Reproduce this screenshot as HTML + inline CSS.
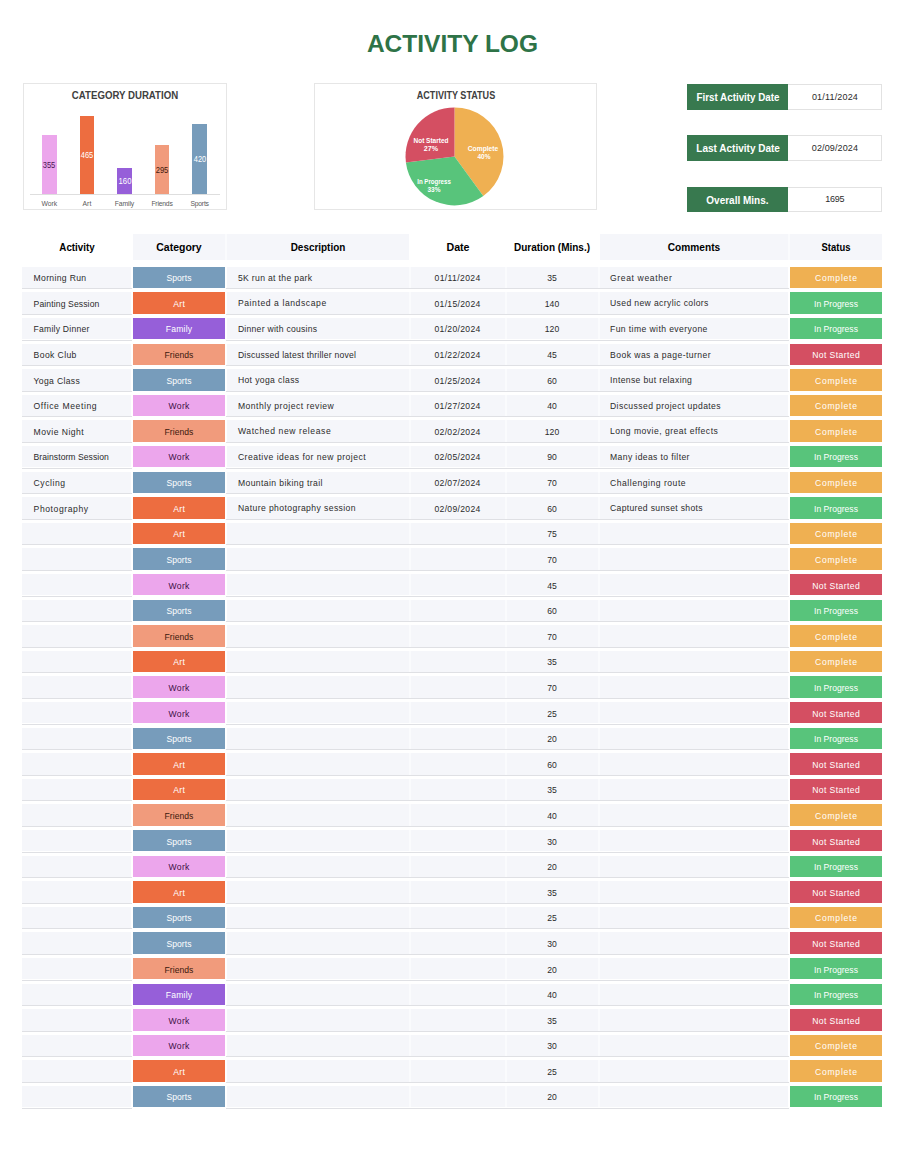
<!DOCTYPE html>
<html><head><meta charset="utf-8"><title>Activity Log</title>
<style>
html,body{margin:0;padding:0;background:#fff;}
body{width:900px;height:1165px;position:relative;overflow:hidden;font-family:"Liberation Sans", sans-serif;}
body>div{position:absolute;}
.t{white-space:nowrap;line-height:1;}
</style></head><body>
<div class="t" style="top:32px;font-size:24.5px;color:#2e7347;font-weight:bold;left:302.45px;width:300px;text-align:center;">ACTIVITY LOG</div>
<div style="left:22.50px;top:83.30px;width:204.00px;height:127.20px;border:1px solid #e6e6e6;box-sizing:border-box;"></div>
<div class="t" style="top:91px;font-size:10px;color:#404040;font-weight:bold;left:-25.35px;width:300px;text-align:center;transform:scaleX(0.9652);transform-origin:50% 0;">CATEGORY DURATION</div>
<div style="left:30.30px;top:194.00px;width:189.40px;height:0.80px;background:#dedede;"></div>
<div style="left:41.90px;top:134.76px;width:14.80px;height:59.64px;background:#eca6ec;"></div>
<div class="t" style="top:161px;font-size:8.4px;color:#4a1a55;left:-100.70px;width:300px;text-align:center;transform:scaleX(0.8990);transform-origin:50% 0;">355</div>
<div class="t" style="top:201px;font-size:6.8px;color:#595959;letter-spacing:-0.067px;left:-100.73px;width:300px;text-align:center;">Work</div>
<div style="left:79.50px;top:116.28px;width:14.80px;height:78.12px;background:#ed6d40;"></div>
<div class="t" style="top:151px;font-size:8.4px;color:#ffffff;left:-63.10px;width:300px;text-align:center;transform:scaleX(0.8901);transform-origin:50% 0;">465</div>
<div class="t" style="top:201px;font-size:6.8px;color:#595959;letter-spacing:0.048px;left:-63.08px;width:300px;text-align:center;">Art</div>
<div style="left:117.10px;top:167.52px;width:14.80px;height:26.88px;background:#965fd9;"></div>
<div class="t" style="top:177px;font-size:8.4px;color:#ffffff;left:-25.50px;width:300px;text-align:center;transform:scaleX(0.9193);transform-origin:50% 0;">160</div>
<div class="t" style="top:201px;font-size:6.8px;color:#595959;letter-spacing:-0.092px;left:-25.55px;width:300px;text-align:center;">Family</div>
<div style="left:154.70px;top:144.84px;width:14.80px;height:49.56px;background:#f19b7c;"></div>
<div class="t" style="top:166px;font-size:8.4px;color:#3f1a0e;left:12.10px;width:300px;text-align:center;transform:scaleX(0.9059);transform-origin:50% 0;">295</div>
<div class="t" style="top:201px;font-size:6.8px;color:#595959;letter-spacing:-0.205px;left:12.00px;width:300px;text-align:center;">Friends</div>
<div style="left:192.30px;top:123.84px;width:14.80px;height:70.56px;background:#779cbb;"></div>
<div class="t" style="top:155px;font-size:8.4px;color:#ffffff;left:49.70px;width:300px;text-align:center;transform:scaleX(0.8884);transform-origin:50% 0;">420</div>
<div class="t" style="top:201px;font-size:6.8px;color:#595959;letter-spacing:-0.220px;left:49.59px;width:300px;text-align:center;">Sports</div>
<div style="left:314.30px;top:83.40px;width:282.70px;height:127.10px;border:1px solid #e6e6e6;box-sizing:border-box;"></div>
<div class="t" style="top:91px;font-size:10px;color:#404040;font-weight:bold;left:305.90px;width:300px;text-align:center;transform:scaleX(0.9042);transform-origin:50% 0;">ACTIVITY STATUS</div>
<svg width="900" height="230" style="position:absolute;left:0;top:0"><path d="M454.50,156.40 L454.50,107.40 A49.0,49.0 0 0 1 483.30,196.04 Z" fill="#efb052" stroke="none"/><path d="M454.50,156.40 L483.30,196.04 A49.0,49.0 0 0 1 405.89,162.54 Z" fill="#58c47b" stroke="none"/><path d="M454.50,156.40 L405.89,162.54 A49.0,49.0 0 0 1 454.50,107.40 Z" fill="#d44f62" stroke="none"/></svg>
<div class="t" style="top:138px;font-size:6.8px;color:#fff;font-weight:bold;left:280.75px;width:300px;text-align:center;transform:scaleX(0.9539);transform-origin:50% 0;">Not Started</div>
<div class="t" style="top:146px;font-size:6.8px;color:#fff;font-weight:bold;left:280.85px;width:300px;text-align:center;transform:scaleX(1.0531);transform-origin:50% 0;">27%</div>
<div class="t" style="top:146px;font-size:6.8px;color:#fff;font-weight:bold;left:333.10px;width:300px;text-align:center;transform:scaleX(0.9845);transform-origin:50% 0;">Complete</div>
<div class="t" style="top:154px;font-size:6.8px;color:#fff;font-weight:bold;left:333.60px;width:300px;text-align:center;transform:scaleX(0.9604);transform-origin:50% 0;">40%</div>
<div class="t" style="top:179px;font-size:6.8px;color:#fff;font-weight:bold;left:284.30px;width:300px;text-align:center;transform:scaleX(0.8994);transform-origin:50% 0;">In Progress</div>
<div class="t" style="top:187px;font-size:6.8px;color:#fff;font-weight:bold;left:284.05px;width:300px;text-align:center;transform:scaleX(0.9563);transform-origin:50% 0;">33%</div>
<div style="left:687.30px;top:84.00px;width:100.40px;height:25.70px;background:#38794f;"></div>
<div class="t" style="top:93px;font-size:10px;color:#fff;font-weight:bold;left:588.30px;width:300px;text-align:center;transform:scaleX(0.9803);transform-origin:50% 0;">First Activity Date</div>
<div style="left:787.70px;top:84.00px;width:94.30px;height:25.70px;border:1px solid #e2e2e2;border-left:none;box-sizing:border-box;background:#fff;"></div>
<div class="t" style="top:93px;font-size:9px;color:#2b2b2b;letter-spacing:0.179px;left:684.99px;width:300px;text-align:center;">01/11/2024</div>
<div style="left:687.30px;top:135.30px;width:100.40px;height:25.70px;background:#38794f;"></div>
<div class="t" style="top:144px;font-size:10px;color:#fff;font-weight:bold;left:588.15px;width:300px;text-align:center;">Last Activity Date</div>
<div style="left:787.70px;top:135.30px;width:94.30px;height:25.70px;border:1px solid #e2e2e2;border-left:none;box-sizing:border-box;background:#fff;"></div>
<div class="t" style="top:144px;font-size:9px;color:#2b2b2b;letter-spacing:0.112px;left:684.96px;width:300px;text-align:center;">02/09/2024</div>
<div style="left:687.30px;top:186.60px;width:100.40px;height:25.70px;background:#38794f;"></div>
<div class="t" style="top:196px;font-size:10px;color:#fff;font-weight:bold;left:587.45px;width:300px;text-align:center;">Overall Mins.</div>
<div style="left:787.70px;top:186.60px;width:94.30px;height:25.70px;border:1px solid #e2e2e2;border-left:none;box-sizing:border-box;background:#fff;"></div>
<div class="t" style="top:195px;font-size:9px;color:#2b2b2b;letter-spacing:-0.186px;left:684.81px;width:300px;text-align:center;">1695</div>
<div style="left:132.80px;top:233.80px;width:276.50px;height:25.80px;background:#f5f6fa;"></div>
<div style="left:225.00px;top:233.80px;width:2.00px;height:25.80px;background:#fafbfd;"></div>
<div style="left:599.80px;top:233.80px;width:282.20px;height:25.80px;background:#f5f6fa;"></div>
<div style="left:788.00px;top:233.80px;width:2.00px;height:25.80px;background:#fafbfd;"></div>
<div class="t" style="top:243px;font-size:10px;color:#000;font-weight:bold;left:-73.50px;width:300px;text-align:center;transform:scaleX(0.9768);transform-origin:50% 0;">Activity</div>
<div class="t" style="top:243px;font-size:10px;color:#000;font-weight:bold;left:29.00px;width:300px;text-align:center;transform:scaleX(1.0471);transform-origin:50% 0;">Category</div>
<div class="t" style="top:243px;font-size:10px;color:#000;font-weight:bold;left:168.00px;width:300px;text-align:center;transform:scaleX(0.9920);transform-origin:50% 0;">Description</div>
<div class="t" style="top:243px;font-size:10px;color:#000;font-weight:bold;left:307.75px;width:300px;text-align:center;transform:scaleX(1.0643);transform-origin:50% 0;">Date</div>
<div class="t" style="top:243px;font-size:10px;color:#000;font-weight:bold;left:402.00px;width:300px;text-align:center;">Duration (Mins.)</div>
<div class="t" style="top:243px;font-size:10px;color:#000;font-weight:bold;left:543.75px;width:300px;text-align:center;transform:scaleX(1.0145);transform-origin:50% 0;">Comments</div>
<div class="t" style="top:243px;font-size:10px;color:#000;font-weight:bold;left:686.00px;width:300px;text-align:center;transform:scaleX(0.9438);transform-origin:50% 0;">Status</div>
<div style="left:22.00px;top:266.70px;width:109.00px;height:21.60px;background:#f5f6fa;"></div>
<div style="left:227.00px;top:266.70px;width:561.00px;height:21.60px;background:#f5f6fa;"></div>
<div style="left:409.00px;top:266.70px;width:2.00px;height:21.60px;background:#fafbfd;"></div>
<div style="left:504.50px;top:266.70px;width:2.00px;height:21.60px;background:#fafbfd;"></div>
<div style="left:597.50px;top:266.70px;width:2.00px;height:21.60px;background:#fafbfd;"></div>
<div style="left:22.00px;top:288.30px;width:110.00px;height:1.00px;background:#dfe0e4;"></div>
<div style="left:226.00px;top:288.30px;width:563.00px;height:1.00px;background:#dfe0e4;"></div>
<div style="left:133.00px;top:266.70px;width:92.00px;height:21.60px;background:#779cbb;"></div>
<div class="t" style="top:274px;font-size:8.6px;color:#ffffff;letter-spacing:0.012px;left:29.01px;width:300px;text-align:center;">Sports</div>
<div style="left:790.00px;top:266.70px;width:92.00px;height:21.60px;background:#efb052;"></div>
<div class="t" style="top:274px;font-size:8.6px;color:#fff;letter-spacing:0.759px;left:686.38px;width:300px;text-align:center;">Complete</div>
<div class="t" style="top:274px;font-size:8.6px;color:#2b2b2b;letter-spacing:0.325px;left:33.60px;">Morning Run</div>
<div class="t" style="top:274px;font-size:8.6px;color:#2b2b2b;letter-spacing:0.341px;left:237.90px;">5K run at the park</div>
<div class="t" style="top:274px;font-size:8.6px;color:#2b2b2b;letter-spacing:0.376px;left:307.59px;width:300px;text-align:center;">01/11/2024</div>
<div class="t" style="top:274px;font-size:8.6px;color:#2b2b2b;letter-spacing:0.037px;left:402.02px;width:300px;text-align:center;">35</div>
<div class="t" style="top:274px;font-size:8.6px;color:#2b2b2b;letter-spacing:0.617px;left:610.00px;">Great weather</div>
<div style="left:22.00px;top:292.30px;width:109.00px;height:21.60px;background:#f5f6fa;"></div>
<div style="left:227.00px;top:292.30px;width:561.00px;height:21.60px;background:#f5f6fa;"></div>
<div style="left:409.00px;top:292.30px;width:2.00px;height:21.60px;background:#fafbfd;"></div>
<div style="left:504.50px;top:292.30px;width:2.00px;height:21.60px;background:#fafbfd;"></div>
<div style="left:597.50px;top:292.30px;width:2.00px;height:21.60px;background:#fafbfd;"></div>
<div style="left:22.00px;top:313.90px;width:110.00px;height:1.00px;background:#dfe0e4;"></div>
<div style="left:226.00px;top:313.90px;width:563.00px;height:1.00px;background:#dfe0e4;"></div>
<div style="left:133.00px;top:292.30px;width:92.00px;height:21.60px;background:#ed6d40;"></div>
<div class="t" style="top:300px;font-size:8.6px;color:#ffffff;letter-spacing:0.339px;left:29.17px;width:300px;text-align:center;">Art</div>
<div style="left:790.00px;top:292.30px;width:92.00px;height:21.60px;background:#58c47b;"></div>
<div class="t" style="top:300px;font-size:8.6px;color:#fff;left:686.00px;width:300px;text-align:center;">In Progress</div>
<div class="t" style="top:300px;font-size:8.6px;color:#2b2b2b;letter-spacing:0.114px;left:33.60px;">Painting Session</div>
<div class="t" style="top:299px;font-size:8.6px;color:#2b2b2b;letter-spacing:0.580px;left:237.90px;">Painted a landscape</div>
<div class="t" style="top:300px;font-size:8.6px;color:#2b2b2b;letter-spacing:0.312px;left:307.56px;width:300px;text-align:center;">01/15/2024</div>
<div class="t" style="top:300px;font-size:8.6px;color:#2b2b2b;letter-spacing:0.037px;left:402.02px;width:300px;text-align:center;">140</div>
<div class="t" style="top:299px;font-size:8.6px;color:#2b2b2b;letter-spacing:0.370px;left:610.00px;">Used new acrylic colors</div>
<div style="left:22.00px;top:317.90px;width:109.00px;height:21.60px;background:#f5f6fa;"></div>
<div style="left:227.00px;top:317.90px;width:561.00px;height:21.60px;background:#f5f6fa;"></div>
<div style="left:409.00px;top:317.90px;width:2.00px;height:21.60px;background:#fafbfd;"></div>
<div style="left:504.50px;top:317.90px;width:2.00px;height:21.60px;background:#fafbfd;"></div>
<div style="left:597.50px;top:317.90px;width:2.00px;height:21.60px;background:#fafbfd;"></div>
<div style="left:22.00px;top:339.50px;width:110.00px;height:1.00px;background:#dfe0e4;"></div>
<div style="left:226.00px;top:339.50px;width:563.00px;height:1.00px;background:#dfe0e4;"></div>
<div style="left:133.00px;top:317.90px;width:92.00px;height:21.60px;background:#965fd9;"></div>
<div class="t" style="top:325px;font-size:8.6px;color:#ffffff;letter-spacing:0.191px;left:29.10px;width:300px;text-align:center;">Family</div>
<div style="left:790.00px;top:317.90px;width:92.00px;height:21.60px;background:#58c47b;"></div>
<div class="t" style="top:325px;font-size:8.6px;color:#fff;left:686.00px;width:300px;text-align:center;">In Progress</div>
<div class="t" style="top:325px;font-size:8.6px;color:#2b2b2b;letter-spacing:0.225px;left:33.60px;">Family Dinner</div>
<div class="t" style="top:325px;font-size:8.6px;color:#2b2b2b;letter-spacing:0.263px;left:237.90px;">Dinner with cousins</div>
<div class="t" style="top:325px;font-size:8.6px;color:#2b2b2b;letter-spacing:0.312px;left:307.56px;width:300px;text-align:center;">01/20/2024</div>
<div class="t" style="top:325px;font-size:8.6px;color:#2b2b2b;letter-spacing:0.037px;left:402.02px;width:300px;text-align:center;">120</div>
<div class="t" style="top:325px;font-size:8.6px;color:#2b2b2b;letter-spacing:0.406px;left:610.00px;">Fun time with everyone</div>
<div style="left:22.00px;top:343.50px;width:109.00px;height:21.60px;background:#f5f6fa;"></div>
<div style="left:227.00px;top:343.50px;width:561.00px;height:21.60px;background:#f5f6fa;"></div>
<div style="left:409.00px;top:343.50px;width:2.00px;height:21.60px;background:#fafbfd;"></div>
<div style="left:504.50px;top:343.50px;width:2.00px;height:21.60px;background:#fafbfd;"></div>
<div style="left:597.50px;top:343.50px;width:2.00px;height:21.60px;background:#fafbfd;"></div>
<div style="left:22.00px;top:365.10px;width:110.00px;height:1.00px;background:#dfe0e4;"></div>
<div style="left:226.00px;top:365.10px;width:563.00px;height:1.00px;background:#dfe0e4;"></div>
<div style="left:133.00px;top:343.50px;width:92.00px;height:21.60px;background:#f19b7c;"></div>
<div class="t" style="top:351px;font-size:8.6px;color:#3a180d;letter-spacing:0.028px;left:29.01px;width:300px;text-align:center;">Friends</div>
<div style="left:790.00px;top:343.50px;width:92.00px;height:21.60px;background:#d44f62;"></div>
<div class="t" style="top:351px;font-size:8.6px;color:#fff;letter-spacing:0.400px;left:686.20px;width:300px;text-align:center;">Not Started</div>
<div class="t" style="top:351px;font-size:8.6px;color:#2b2b2b;letter-spacing:0.392px;left:33.60px;">Book Club</div>
<div class="t" style="top:351px;font-size:8.6px;color:#2b2b2b;letter-spacing:0.224px;left:237.90px;">Discussed latest thriller novel</div>
<div class="t" style="top:351px;font-size:8.6px;color:#2b2b2b;letter-spacing:0.312px;left:307.56px;width:300px;text-align:center;">01/22/2024</div>
<div class="t" style="top:351px;font-size:8.6px;color:#2b2b2b;letter-spacing:0.037px;left:402.02px;width:300px;text-align:center;">45</div>
<div class="t" style="top:351px;font-size:8.6px;color:#2b2b2b;letter-spacing:0.450px;left:610.00px;">Book was a page-turner</div>
<div style="left:22.00px;top:369.10px;width:109.00px;height:21.60px;background:#f5f6fa;"></div>
<div style="left:227.00px;top:369.10px;width:561.00px;height:21.60px;background:#f5f6fa;"></div>
<div style="left:409.00px;top:369.10px;width:2.00px;height:21.60px;background:#fafbfd;"></div>
<div style="left:504.50px;top:369.10px;width:2.00px;height:21.60px;background:#fafbfd;"></div>
<div style="left:597.50px;top:369.10px;width:2.00px;height:21.60px;background:#fafbfd;"></div>
<div style="left:22.00px;top:390.70px;width:110.00px;height:1.00px;background:#dfe0e4;"></div>
<div style="left:226.00px;top:390.70px;width:563.00px;height:1.00px;background:#dfe0e4;"></div>
<div style="left:133.00px;top:369.10px;width:92.00px;height:21.60px;background:#779cbb;"></div>
<div class="t" style="top:377px;font-size:8.6px;color:#ffffff;letter-spacing:0.012px;left:29.01px;width:300px;text-align:center;">Sports</div>
<div style="left:790.00px;top:369.10px;width:92.00px;height:21.60px;background:#efb052;"></div>
<div class="t" style="top:377px;font-size:8.6px;color:#fff;letter-spacing:0.759px;left:686.38px;width:300px;text-align:center;">Complete</div>
<div class="t" style="top:377px;font-size:8.6px;color:#2b2b2b;letter-spacing:0.337px;left:33.60px;">Yoga Class</div>
<div class="t" style="top:376px;font-size:8.6px;color:#2b2b2b;letter-spacing:0.373px;left:237.90px;">Hot yoga class</div>
<div class="t" style="top:377px;font-size:8.6px;color:#2b2b2b;letter-spacing:0.312px;left:307.56px;width:300px;text-align:center;">01/25/2024</div>
<div class="t" style="top:377px;font-size:8.6px;color:#2b2b2b;letter-spacing:0.037px;left:402.02px;width:300px;text-align:center;">60</div>
<div class="t" style="top:376px;font-size:8.6px;color:#2b2b2b;letter-spacing:0.359px;left:610.00px;">Intense but relaxing</div>
<div style="left:22.00px;top:394.70px;width:109.00px;height:21.60px;background:#f5f6fa;"></div>
<div style="left:227.00px;top:394.70px;width:561.00px;height:21.60px;background:#f5f6fa;"></div>
<div style="left:409.00px;top:394.70px;width:2.00px;height:21.60px;background:#fafbfd;"></div>
<div style="left:504.50px;top:394.70px;width:2.00px;height:21.60px;background:#fafbfd;"></div>
<div style="left:597.50px;top:394.70px;width:2.00px;height:21.60px;background:#fafbfd;"></div>
<div style="left:22.00px;top:416.30px;width:110.00px;height:1.00px;background:#dfe0e4;"></div>
<div style="left:226.00px;top:416.30px;width:563.00px;height:1.00px;background:#dfe0e4;"></div>
<div style="left:133.00px;top:394.70px;width:92.00px;height:21.60px;background:#eca6ec;"></div>
<div class="t" style="top:402px;font-size:8.6px;color:#3d1145;letter-spacing:0.282px;left:29.14px;width:300px;text-align:center;">Work</div>
<div style="left:790.00px;top:394.70px;width:92.00px;height:21.60px;background:#efb052;"></div>
<div class="t" style="top:402px;font-size:8.6px;color:#fff;letter-spacing:0.759px;left:686.38px;width:300px;text-align:center;">Complete</div>
<div class="t" style="top:402px;font-size:8.6px;color:#2b2b2b;letter-spacing:0.595px;left:33.60px;">Office Meeting</div>
<div class="t" style="top:402px;font-size:8.6px;color:#2b2b2b;letter-spacing:0.496px;left:237.90px;">Monthly project review</div>
<div class="t" style="top:402px;font-size:8.6px;color:#2b2b2b;letter-spacing:0.312px;left:307.56px;width:300px;text-align:center;">01/27/2024</div>
<div class="t" style="top:402px;font-size:8.6px;color:#2b2b2b;letter-spacing:0.037px;left:402.02px;width:300px;text-align:center;">40</div>
<div class="t" style="top:402px;font-size:8.6px;color:#2b2b2b;letter-spacing:0.409px;left:610.00px;">Discussed project updates</div>
<div style="left:22.00px;top:420.30px;width:109.00px;height:21.60px;background:#f5f6fa;"></div>
<div style="left:227.00px;top:420.30px;width:561.00px;height:21.60px;background:#f5f6fa;"></div>
<div style="left:409.00px;top:420.30px;width:2.00px;height:21.60px;background:#fafbfd;"></div>
<div style="left:504.50px;top:420.30px;width:2.00px;height:21.60px;background:#fafbfd;"></div>
<div style="left:597.50px;top:420.30px;width:2.00px;height:21.60px;background:#fafbfd;"></div>
<div style="left:22.00px;top:441.90px;width:110.00px;height:1.00px;background:#dfe0e4;"></div>
<div style="left:226.00px;top:441.90px;width:563.00px;height:1.00px;background:#dfe0e4;"></div>
<div style="left:133.00px;top:420.30px;width:92.00px;height:21.60px;background:#f19b7c;"></div>
<div class="t" style="top:428px;font-size:8.6px;color:#3a180d;letter-spacing:0.028px;left:29.01px;width:300px;text-align:center;">Friends</div>
<div style="left:790.00px;top:420.30px;width:92.00px;height:21.60px;background:#efb052;"></div>
<div class="t" style="top:428px;font-size:8.6px;color:#fff;letter-spacing:0.759px;left:686.38px;width:300px;text-align:center;">Complete</div>
<div class="t" style="top:428px;font-size:8.6px;color:#2b2b2b;letter-spacing:0.473px;left:33.60px;">Movie Night</div>
<div class="t" style="top:427px;font-size:8.6px;color:#2b2b2b;letter-spacing:0.582px;left:237.90px;">Watched new release</div>
<div class="t" style="top:428px;font-size:8.6px;color:#2b2b2b;letter-spacing:0.312px;left:307.56px;width:300px;text-align:center;">02/02/2024</div>
<div class="t" style="top:428px;font-size:8.6px;color:#2b2b2b;letter-spacing:0.037px;left:402.02px;width:300px;text-align:center;">120</div>
<div class="t" style="top:427px;font-size:8.6px;color:#2b2b2b;letter-spacing:0.477px;left:610.00px;">Long movie, great effects</div>
<div style="left:22.00px;top:445.90px;width:109.00px;height:21.60px;background:#f5f6fa;"></div>
<div style="left:227.00px;top:445.90px;width:561.00px;height:21.60px;background:#f5f6fa;"></div>
<div style="left:409.00px;top:445.90px;width:2.00px;height:21.60px;background:#fafbfd;"></div>
<div style="left:504.50px;top:445.90px;width:2.00px;height:21.60px;background:#fafbfd;"></div>
<div style="left:597.50px;top:445.90px;width:2.00px;height:21.60px;background:#fafbfd;"></div>
<div style="left:22.00px;top:467.50px;width:110.00px;height:1.00px;background:#dfe0e4;"></div>
<div style="left:226.00px;top:467.50px;width:563.00px;height:1.00px;background:#dfe0e4;"></div>
<div style="left:133.00px;top:445.90px;width:92.00px;height:21.60px;background:#eca6ec;"></div>
<div class="t" style="top:453px;font-size:8.6px;color:#3d1145;letter-spacing:0.282px;left:29.14px;width:300px;text-align:center;">Work</div>
<div style="left:790.00px;top:445.90px;width:92.00px;height:21.60px;background:#58c47b;"></div>
<div class="t" style="top:453px;font-size:8.6px;color:#fff;left:686.00px;width:300px;text-align:center;">In Progress</div>
<div class="t" style="top:453px;font-size:8.6px;color:#2b2b2b;letter-spacing:0.041px;left:33.60px;">Brainstorm Session</div>
<div class="t" style="top:453px;font-size:8.6px;color:#2b2b2b;letter-spacing:0.484px;left:237.90px;">Creative ideas for new project</div>
<div class="t" style="top:453px;font-size:8.6px;color:#2b2b2b;letter-spacing:0.312px;left:307.56px;width:300px;text-align:center;">02/05/2024</div>
<div class="t" style="top:453px;font-size:8.6px;color:#2b2b2b;letter-spacing:0.037px;left:402.02px;width:300px;text-align:center;">90</div>
<div class="t" style="top:453px;font-size:8.6px;color:#2b2b2b;letter-spacing:0.386px;left:610.00px;">Many ideas to filter</div>
<div style="left:22.00px;top:471.50px;width:109.00px;height:21.60px;background:#f5f6fa;"></div>
<div style="left:227.00px;top:471.50px;width:561.00px;height:21.60px;background:#f5f6fa;"></div>
<div style="left:409.00px;top:471.50px;width:2.00px;height:21.60px;background:#fafbfd;"></div>
<div style="left:504.50px;top:471.50px;width:2.00px;height:21.60px;background:#fafbfd;"></div>
<div style="left:597.50px;top:471.50px;width:2.00px;height:21.60px;background:#fafbfd;"></div>
<div style="left:22.00px;top:493.10px;width:110.00px;height:1.00px;background:#dfe0e4;"></div>
<div style="left:226.00px;top:493.10px;width:563.00px;height:1.00px;background:#dfe0e4;"></div>
<div style="left:133.00px;top:471.50px;width:92.00px;height:21.60px;background:#779cbb;"></div>
<div class="t" style="top:479px;font-size:8.6px;color:#ffffff;letter-spacing:0.012px;left:29.01px;width:300px;text-align:center;">Sports</div>
<div style="left:790.00px;top:471.50px;width:92.00px;height:21.60px;background:#efb052;"></div>
<div class="t" style="top:479px;font-size:8.6px;color:#fff;letter-spacing:0.759px;left:686.38px;width:300px;text-align:center;">Complete</div>
<div class="t" style="top:479px;font-size:8.6px;color:#2b2b2b;letter-spacing:0.544px;left:33.60px;">Cycling</div>
<div class="t" style="top:479px;font-size:8.6px;color:#2b2b2b;letter-spacing:0.405px;left:237.90px;">Mountain biking trail</div>
<div class="t" style="top:479px;font-size:8.6px;color:#2b2b2b;letter-spacing:0.312px;left:307.56px;width:300px;text-align:center;">02/07/2024</div>
<div class="t" style="top:479px;font-size:8.6px;color:#2b2b2b;letter-spacing:0.037px;left:402.02px;width:300px;text-align:center;">70</div>
<div class="t" style="top:479px;font-size:8.6px;color:#2b2b2b;letter-spacing:0.513px;left:610.00px;">Challenging route</div>
<div style="left:22.00px;top:497.10px;width:109.00px;height:21.60px;background:#f5f6fa;"></div>
<div style="left:227.00px;top:497.10px;width:561.00px;height:21.60px;background:#f5f6fa;"></div>
<div style="left:409.00px;top:497.10px;width:2.00px;height:21.60px;background:#fafbfd;"></div>
<div style="left:504.50px;top:497.10px;width:2.00px;height:21.60px;background:#fafbfd;"></div>
<div style="left:597.50px;top:497.10px;width:2.00px;height:21.60px;background:#fafbfd;"></div>
<div style="left:22.00px;top:518.70px;width:110.00px;height:1.00px;background:#dfe0e4;"></div>
<div style="left:226.00px;top:518.70px;width:563.00px;height:1.00px;background:#dfe0e4;"></div>
<div style="left:133.00px;top:497.10px;width:92.00px;height:21.60px;background:#ed6d40;"></div>
<div class="t" style="top:505px;font-size:8.6px;color:#ffffff;letter-spacing:0.339px;left:29.17px;width:300px;text-align:center;">Art</div>
<div style="left:790.00px;top:497.10px;width:92.00px;height:21.60px;background:#58c47b;"></div>
<div class="t" style="top:505px;font-size:8.6px;color:#fff;left:686.00px;width:300px;text-align:center;">In Progress</div>
<div class="t" style="top:505px;font-size:8.6px;color:#2b2b2b;letter-spacing:0.579px;left:33.60px;">Photography</div>
<div class="t" style="top:504px;font-size:8.6px;color:#2b2b2b;letter-spacing:0.408px;left:237.90px;">Nature photography session</div>
<div class="t" style="top:505px;font-size:8.6px;color:#2b2b2b;letter-spacing:0.312px;left:307.56px;width:300px;text-align:center;">02/09/2024</div>
<div class="t" style="top:505px;font-size:8.6px;color:#2b2b2b;letter-spacing:0.037px;left:402.02px;width:300px;text-align:center;">60</div>
<div class="t" style="top:504px;font-size:8.6px;color:#2b2b2b;letter-spacing:0.327px;left:610.00px;">Captured sunset shots</div>
<div style="left:22.00px;top:522.70px;width:109.00px;height:21.60px;background:#f5f6fa;"></div>
<div style="left:227.00px;top:522.70px;width:561.00px;height:21.60px;background:#f5f6fa;"></div>
<div style="left:409.00px;top:522.70px;width:2.00px;height:21.60px;background:#fafbfd;"></div>
<div style="left:504.50px;top:522.70px;width:2.00px;height:21.60px;background:#fafbfd;"></div>
<div style="left:597.50px;top:522.70px;width:2.00px;height:21.60px;background:#fafbfd;"></div>
<div style="left:22.00px;top:544.30px;width:110.00px;height:1.00px;background:#dfe0e4;"></div>
<div style="left:226.00px;top:544.30px;width:563.00px;height:1.00px;background:#dfe0e4;"></div>
<div style="left:133.00px;top:522.70px;width:92.00px;height:21.60px;background:#ed6d40;"></div>
<div class="t" style="top:530px;font-size:8.6px;color:#ffffff;letter-spacing:0.339px;left:29.17px;width:300px;text-align:center;">Art</div>
<div style="left:790.00px;top:522.70px;width:92.00px;height:21.60px;background:#efb052;"></div>
<div class="t" style="top:530px;font-size:8.6px;color:#fff;letter-spacing:0.759px;left:686.38px;width:300px;text-align:center;">Complete</div>
<div class="t" style="top:530px;font-size:8.6px;color:#2b2b2b;letter-spacing:0.037px;left:402.02px;width:300px;text-align:center;">75</div>
<div style="left:22.00px;top:548.30px;width:109.00px;height:21.60px;background:#f5f6fa;"></div>
<div style="left:227.00px;top:548.30px;width:561.00px;height:21.60px;background:#f5f6fa;"></div>
<div style="left:409.00px;top:548.30px;width:2.00px;height:21.60px;background:#fafbfd;"></div>
<div style="left:504.50px;top:548.30px;width:2.00px;height:21.60px;background:#fafbfd;"></div>
<div style="left:597.50px;top:548.30px;width:2.00px;height:21.60px;background:#fafbfd;"></div>
<div style="left:22.00px;top:569.90px;width:110.00px;height:1.00px;background:#dfe0e4;"></div>
<div style="left:226.00px;top:569.90px;width:563.00px;height:1.00px;background:#dfe0e4;"></div>
<div style="left:133.00px;top:548.30px;width:92.00px;height:21.60px;background:#779cbb;"></div>
<div class="t" style="top:556px;font-size:8.6px;color:#ffffff;letter-spacing:0.012px;left:29.01px;width:300px;text-align:center;">Sports</div>
<div style="left:790.00px;top:548.30px;width:92.00px;height:21.60px;background:#efb052;"></div>
<div class="t" style="top:556px;font-size:8.6px;color:#fff;letter-spacing:0.759px;left:686.38px;width:300px;text-align:center;">Complete</div>
<div class="t" style="top:556px;font-size:8.6px;color:#2b2b2b;letter-spacing:0.037px;left:402.02px;width:300px;text-align:center;">70</div>
<div style="left:22.00px;top:573.90px;width:109.00px;height:21.60px;background:#f5f6fa;"></div>
<div style="left:227.00px;top:573.90px;width:561.00px;height:21.60px;background:#f5f6fa;"></div>
<div style="left:409.00px;top:573.90px;width:2.00px;height:21.60px;background:#fafbfd;"></div>
<div style="left:504.50px;top:573.90px;width:2.00px;height:21.60px;background:#fafbfd;"></div>
<div style="left:597.50px;top:573.90px;width:2.00px;height:21.60px;background:#fafbfd;"></div>
<div style="left:22.00px;top:595.50px;width:110.00px;height:1.00px;background:#dfe0e4;"></div>
<div style="left:226.00px;top:595.50px;width:563.00px;height:1.00px;background:#dfe0e4;"></div>
<div style="left:133.00px;top:573.90px;width:92.00px;height:21.60px;background:#eca6ec;"></div>
<div class="t" style="top:582px;font-size:8.6px;color:#3d1145;letter-spacing:0.282px;left:29.14px;width:300px;text-align:center;">Work</div>
<div style="left:790.00px;top:573.90px;width:92.00px;height:21.60px;background:#d44f62;"></div>
<div class="t" style="top:582px;font-size:8.6px;color:#fff;letter-spacing:0.400px;left:686.20px;width:300px;text-align:center;">Not Started</div>
<div class="t" style="top:582px;font-size:8.6px;color:#2b2b2b;letter-spacing:0.037px;left:402.02px;width:300px;text-align:center;">45</div>
<div style="left:22.00px;top:599.50px;width:109.00px;height:21.60px;background:#f5f6fa;"></div>
<div style="left:227.00px;top:599.50px;width:561.00px;height:21.60px;background:#f5f6fa;"></div>
<div style="left:409.00px;top:599.50px;width:2.00px;height:21.60px;background:#fafbfd;"></div>
<div style="left:504.50px;top:599.50px;width:2.00px;height:21.60px;background:#fafbfd;"></div>
<div style="left:597.50px;top:599.50px;width:2.00px;height:21.60px;background:#fafbfd;"></div>
<div style="left:22.00px;top:621.10px;width:110.00px;height:1.00px;background:#dfe0e4;"></div>
<div style="left:226.00px;top:621.10px;width:563.00px;height:1.00px;background:#dfe0e4;"></div>
<div style="left:133.00px;top:599.50px;width:92.00px;height:21.60px;background:#779cbb;"></div>
<div class="t" style="top:607px;font-size:8.6px;color:#ffffff;letter-spacing:0.012px;left:29.01px;width:300px;text-align:center;">Sports</div>
<div style="left:790.00px;top:599.50px;width:92.00px;height:21.60px;background:#58c47b;"></div>
<div class="t" style="top:607px;font-size:8.6px;color:#fff;left:686.00px;width:300px;text-align:center;">In Progress</div>
<div class="t" style="top:607px;font-size:8.6px;color:#2b2b2b;letter-spacing:0.037px;left:402.02px;width:300px;text-align:center;">60</div>
<div style="left:22.00px;top:625.10px;width:109.00px;height:21.60px;background:#f5f6fa;"></div>
<div style="left:227.00px;top:625.10px;width:561.00px;height:21.60px;background:#f5f6fa;"></div>
<div style="left:409.00px;top:625.10px;width:2.00px;height:21.60px;background:#fafbfd;"></div>
<div style="left:504.50px;top:625.10px;width:2.00px;height:21.60px;background:#fafbfd;"></div>
<div style="left:597.50px;top:625.10px;width:2.00px;height:21.60px;background:#fafbfd;"></div>
<div style="left:22.00px;top:646.70px;width:110.00px;height:1.00px;background:#dfe0e4;"></div>
<div style="left:226.00px;top:646.70px;width:563.00px;height:1.00px;background:#dfe0e4;"></div>
<div style="left:133.00px;top:625.10px;width:92.00px;height:21.60px;background:#f19b7c;"></div>
<div class="t" style="top:633px;font-size:8.6px;color:#3a180d;letter-spacing:0.028px;left:29.01px;width:300px;text-align:center;">Friends</div>
<div style="left:790.00px;top:625.10px;width:92.00px;height:21.60px;background:#efb052;"></div>
<div class="t" style="top:633px;font-size:8.6px;color:#fff;letter-spacing:0.759px;left:686.38px;width:300px;text-align:center;">Complete</div>
<div class="t" style="top:633px;font-size:8.6px;color:#2b2b2b;letter-spacing:0.037px;left:402.02px;width:300px;text-align:center;">70</div>
<div style="left:22.00px;top:650.70px;width:109.00px;height:21.60px;background:#f5f6fa;"></div>
<div style="left:227.00px;top:650.70px;width:561.00px;height:21.60px;background:#f5f6fa;"></div>
<div style="left:409.00px;top:650.70px;width:2.00px;height:21.60px;background:#fafbfd;"></div>
<div style="left:504.50px;top:650.70px;width:2.00px;height:21.60px;background:#fafbfd;"></div>
<div style="left:597.50px;top:650.70px;width:2.00px;height:21.60px;background:#fafbfd;"></div>
<div style="left:22.00px;top:672.30px;width:110.00px;height:1.00px;background:#dfe0e4;"></div>
<div style="left:226.00px;top:672.30px;width:563.00px;height:1.00px;background:#dfe0e4;"></div>
<div style="left:133.00px;top:650.70px;width:92.00px;height:21.60px;background:#ed6d40;"></div>
<div class="t" style="top:658px;font-size:8.6px;color:#ffffff;letter-spacing:0.339px;left:29.17px;width:300px;text-align:center;">Art</div>
<div style="left:790.00px;top:650.70px;width:92.00px;height:21.60px;background:#efb052;"></div>
<div class="t" style="top:658px;font-size:8.6px;color:#fff;letter-spacing:0.759px;left:686.38px;width:300px;text-align:center;">Complete</div>
<div class="t" style="top:658px;font-size:8.6px;color:#2b2b2b;letter-spacing:0.037px;left:402.02px;width:300px;text-align:center;">35</div>
<div style="left:22.00px;top:676.30px;width:109.00px;height:21.60px;background:#f5f6fa;"></div>
<div style="left:227.00px;top:676.30px;width:561.00px;height:21.60px;background:#f5f6fa;"></div>
<div style="left:409.00px;top:676.30px;width:2.00px;height:21.60px;background:#fafbfd;"></div>
<div style="left:504.50px;top:676.30px;width:2.00px;height:21.60px;background:#fafbfd;"></div>
<div style="left:597.50px;top:676.30px;width:2.00px;height:21.60px;background:#fafbfd;"></div>
<div style="left:22.00px;top:697.90px;width:110.00px;height:1.00px;background:#dfe0e4;"></div>
<div style="left:226.00px;top:697.90px;width:563.00px;height:1.00px;background:#dfe0e4;"></div>
<div style="left:133.00px;top:676.30px;width:92.00px;height:21.60px;background:#eca6ec;"></div>
<div class="t" style="top:684px;font-size:8.6px;color:#3d1145;letter-spacing:0.282px;left:29.14px;width:300px;text-align:center;">Work</div>
<div style="left:790.00px;top:676.30px;width:92.00px;height:21.60px;background:#58c47b;"></div>
<div class="t" style="top:684px;font-size:8.6px;color:#fff;left:686.00px;width:300px;text-align:center;">In Progress</div>
<div class="t" style="top:684px;font-size:8.6px;color:#2b2b2b;letter-spacing:0.037px;left:402.02px;width:300px;text-align:center;">70</div>
<div style="left:22.00px;top:701.90px;width:109.00px;height:21.60px;background:#f5f6fa;"></div>
<div style="left:227.00px;top:701.90px;width:561.00px;height:21.60px;background:#f5f6fa;"></div>
<div style="left:409.00px;top:701.90px;width:2.00px;height:21.60px;background:#fafbfd;"></div>
<div style="left:504.50px;top:701.90px;width:2.00px;height:21.60px;background:#fafbfd;"></div>
<div style="left:597.50px;top:701.90px;width:2.00px;height:21.60px;background:#fafbfd;"></div>
<div style="left:22.00px;top:723.50px;width:110.00px;height:1.00px;background:#dfe0e4;"></div>
<div style="left:226.00px;top:723.50px;width:563.00px;height:1.00px;background:#dfe0e4;"></div>
<div style="left:133.00px;top:701.90px;width:92.00px;height:21.60px;background:#eca6ec;"></div>
<div class="t" style="top:710px;font-size:8.6px;color:#3d1145;letter-spacing:0.282px;left:29.14px;width:300px;text-align:center;">Work</div>
<div style="left:790.00px;top:701.90px;width:92.00px;height:21.60px;background:#d44f62;"></div>
<div class="t" style="top:710px;font-size:8.6px;color:#fff;letter-spacing:0.400px;left:686.20px;width:300px;text-align:center;">Not Started</div>
<div class="t" style="top:710px;font-size:8.6px;color:#2b2b2b;letter-spacing:0.037px;left:402.02px;width:300px;text-align:center;">25</div>
<div style="left:22.00px;top:727.50px;width:109.00px;height:21.60px;background:#f5f6fa;"></div>
<div style="left:227.00px;top:727.50px;width:561.00px;height:21.60px;background:#f5f6fa;"></div>
<div style="left:409.00px;top:727.50px;width:2.00px;height:21.60px;background:#fafbfd;"></div>
<div style="left:504.50px;top:727.50px;width:2.00px;height:21.60px;background:#fafbfd;"></div>
<div style="left:597.50px;top:727.50px;width:2.00px;height:21.60px;background:#fafbfd;"></div>
<div style="left:22.00px;top:749.10px;width:110.00px;height:1.00px;background:#dfe0e4;"></div>
<div style="left:226.00px;top:749.10px;width:563.00px;height:1.00px;background:#dfe0e4;"></div>
<div style="left:133.00px;top:727.50px;width:92.00px;height:21.60px;background:#779cbb;"></div>
<div class="t" style="top:735px;font-size:8.6px;color:#ffffff;letter-spacing:0.012px;left:29.01px;width:300px;text-align:center;">Sports</div>
<div style="left:790.00px;top:727.50px;width:92.00px;height:21.60px;background:#58c47b;"></div>
<div class="t" style="top:735px;font-size:8.6px;color:#fff;left:686.00px;width:300px;text-align:center;">In Progress</div>
<div class="t" style="top:735px;font-size:8.6px;color:#2b2b2b;letter-spacing:0.037px;left:402.02px;width:300px;text-align:center;">20</div>
<div style="left:22.00px;top:753.10px;width:109.00px;height:21.60px;background:#f5f6fa;"></div>
<div style="left:227.00px;top:753.10px;width:561.00px;height:21.60px;background:#f5f6fa;"></div>
<div style="left:409.00px;top:753.10px;width:2.00px;height:21.60px;background:#fafbfd;"></div>
<div style="left:504.50px;top:753.10px;width:2.00px;height:21.60px;background:#fafbfd;"></div>
<div style="left:597.50px;top:753.10px;width:2.00px;height:21.60px;background:#fafbfd;"></div>
<div style="left:22.00px;top:774.70px;width:110.00px;height:1.00px;background:#dfe0e4;"></div>
<div style="left:226.00px;top:774.70px;width:563.00px;height:1.00px;background:#dfe0e4;"></div>
<div style="left:133.00px;top:753.10px;width:92.00px;height:21.60px;background:#ed6d40;"></div>
<div class="t" style="top:761px;font-size:8.6px;color:#ffffff;letter-spacing:0.339px;left:29.17px;width:300px;text-align:center;">Art</div>
<div style="left:790.00px;top:753.10px;width:92.00px;height:21.60px;background:#d44f62;"></div>
<div class="t" style="top:761px;font-size:8.6px;color:#fff;letter-spacing:0.400px;left:686.20px;width:300px;text-align:center;">Not Started</div>
<div class="t" style="top:761px;font-size:8.6px;color:#2b2b2b;letter-spacing:0.037px;left:402.02px;width:300px;text-align:center;">60</div>
<div style="left:22.00px;top:778.70px;width:109.00px;height:21.60px;background:#f5f6fa;"></div>
<div style="left:227.00px;top:778.70px;width:561.00px;height:21.60px;background:#f5f6fa;"></div>
<div style="left:409.00px;top:778.70px;width:2.00px;height:21.60px;background:#fafbfd;"></div>
<div style="left:504.50px;top:778.70px;width:2.00px;height:21.60px;background:#fafbfd;"></div>
<div style="left:597.50px;top:778.70px;width:2.00px;height:21.60px;background:#fafbfd;"></div>
<div style="left:22.00px;top:800.30px;width:110.00px;height:1.00px;background:#dfe0e4;"></div>
<div style="left:226.00px;top:800.30px;width:563.00px;height:1.00px;background:#dfe0e4;"></div>
<div style="left:133.00px;top:778.70px;width:92.00px;height:21.60px;background:#ed6d40;"></div>
<div class="t" style="top:786px;font-size:8.6px;color:#ffffff;letter-spacing:0.339px;left:29.17px;width:300px;text-align:center;">Art</div>
<div style="left:790.00px;top:778.70px;width:92.00px;height:21.60px;background:#d44f62;"></div>
<div class="t" style="top:786px;font-size:8.6px;color:#fff;letter-spacing:0.400px;left:686.20px;width:300px;text-align:center;">Not Started</div>
<div class="t" style="top:786px;font-size:8.6px;color:#2b2b2b;letter-spacing:0.037px;left:402.02px;width:300px;text-align:center;">35</div>
<div style="left:22.00px;top:804.30px;width:109.00px;height:21.60px;background:#f5f6fa;"></div>
<div style="left:227.00px;top:804.30px;width:561.00px;height:21.60px;background:#f5f6fa;"></div>
<div style="left:409.00px;top:804.30px;width:2.00px;height:21.60px;background:#fafbfd;"></div>
<div style="left:504.50px;top:804.30px;width:2.00px;height:21.60px;background:#fafbfd;"></div>
<div style="left:597.50px;top:804.30px;width:2.00px;height:21.60px;background:#fafbfd;"></div>
<div style="left:22.00px;top:825.90px;width:110.00px;height:1.00px;background:#dfe0e4;"></div>
<div style="left:226.00px;top:825.90px;width:563.00px;height:1.00px;background:#dfe0e4;"></div>
<div style="left:133.00px;top:804.30px;width:92.00px;height:21.60px;background:#f19b7c;"></div>
<div class="t" style="top:812px;font-size:8.6px;color:#3a180d;letter-spacing:0.028px;left:29.01px;width:300px;text-align:center;">Friends</div>
<div style="left:790.00px;top:804.30px;width:92.00px;height:21.60px;background:#efb052;"></div>
<div class="t" style="top:812px;font-size:8.6px;color:#fff;letter-spacing:0.759px;left:686.38px;width:300px;text-align:center;">Complete</div>
<div class="t" style="top:812px;font-size:8.6px;color:#2b2b2b;letter-spacing:0.037px;left:402.02px;width:300px;text-align:center;">40</div>
<div style="left:22.00px;top:829.90px;width:109.00px;height:21.60px;background:#f5f6fa;"></div>
<div style="left:227.00px;top:829.90px;width:561.00px;height:21.60px;background:#f5f6fa;"></div>
<div style="left:409.00px;top:829.90px;width:2.00px;height:21.60px;background:#fafbfd;"></div>
<div style="left:504.50px;top:829.90px;width:2.00px;height:21.60px;background:#fafbfd;"></div>
<div style="left:597.50px;top:829.90px;width:2.00px;height:21.60px;background:#fafbfd;"></div>
<div style="left:22.00px;top:851.50px;width:110.00px;height:1.00px;background:#dfe0e4;"></div>
<div style="left:226.00px;top:851.50px;width:563.00px;height:1.00px;background:#dfe0e4;"></div>
<div style="left:133.00px;top:829.90px;width:92.00px;height:21.60px;background:#779cbb;"></div>
<div class="t" style="top:838px;font-size:8.6px;color:#ffffff;letter-spacing:0.012px;left:29.01px;width:300px;text-align:center;">Sports</div>
<div style="left:790.00px;top:829.90px;width:92.00px;height:21.60px;background:#d44f62;"></div>
<div class="t" style="top:838px;font-size:8.6px;color:#fff;letter-spacing:0.400px;left:686.20px;width:300px;text-align:center;">Not Started</div>
<div class="t" style="top:838px;font-size:8.6px;color:#2b2b2b;letter-spacing:0.037px;left:402.02px;width:300px;text-align:center;">30</div>
<div style="left:22.00px;top:855.50px;width:109.00px;height:21.60px;background:#f5f6fa;"></div>
<div style="left:227.00px;top:855.50px;width:561.00px;height:21.60px;background:#f5f6fa;"></div>
<div style="left:409.00px;top:855.50px;width:2.00px;height:21.60px;background:#fafbfd;"></div>
<div style="left:504.50px;top:855.50px;width:2.00px;height:21.60px;background:#fafbfd;"></div>
<div style="left:597.50px;top:855.50px;width:2.00px;height:21.60px;background:#fafbfd;"></div>
<div style="left:22.00px;top:877.10px;width:110.00px;height:1.00px;background:#dfe0e4;"></div>
<div style="left:226.00px;top:877.10px;width:563.00px;height:1.00px;background:#dfe0e4;"></div>
<div style="left:133.00px;top:855.50px;width:92.00px;height:21.60px;background:#eca6ec;"></div>
<div class="t" style="top:863px;font-size:8.6px;color:#3d1145;letter-spacing:0.282px;left:29.14px;width:300px;text-align:center;">Work</div>
<div style="left:790.00px;top:855.50px;width:92.00px;height:21.60px;background:#58c47b;"></div>
<div class="t" style="top:863px;font-size:8.6px;color:#fff;left:686.00px;width:300px;text-align:center;">In Progress</div>
<div class="t" style="top:863px;font-size:8.6px;color:#2b2b2b;letter-spacing:0.037px;left:402.02px;width:300px;text-align:center;">20</div>
<div style="left:22.00px;top:881.10px;width:109.00px;height:21.60px;background:#f5f6fa;"></div>
<div style="left:227.00px;top:881.10px;width:561.00px;height:21.60px;background:#f5f6fa;"></div>
<div style="left:409.00px;top:881.10px;width:2.00px;height:21.60px;background:#fafbfd;"></div>
<div style="left:504.50px;top:881.10px;width:2.00px;height:21.60px;background:#fafbfd;"></div>
<div style="left:597.50px;top:881.10px;width:2.00px;height:21.60px;background:#fafbfd;"></div>
<div style="left:22.00px;top:902.70px;width:110.00px;height:1.00px;background:#dfe0e4;"></div>
<div style="left:226.00px;top:902.70px;width:563.00px;height:1.00px;background:#dfe0e4;"></div>
<div style="left:133.00px;top:881.10px;width:92.00px;height:21.60px;background:#ed6d40;"></div>
<div class="t" style="top:889px;font-size:8.6px;color:#ffffff;letter-spacing:0.339px;left:29.17px;width:300px;text-align:center;">Art</div>
<div style="left:790.00px;top:881.10px;width:92.00px;height:21.60px;background:#d44f62;"></div>
<div class="t" style="top:889px;font-size:8.6px;color:#fff;letter-spacing:0.400px;left:686.20px;width:300px;text-align:center;">Not Started</div>
<div class="t" style="top:889px;font-size:8.6px;color:#2b2b2b;letter-spacing:0.037px;left:402.02px;width:300px;text-align:center;">35</div>
<div style="left:22.00px;top:906.70px;width:109.00px;height:21.60px;background:#f5f6fa;"></div>
<div style="left:227.00px;top:906.70px;width:561.00px;height:21.60px;background:#f5f6fa;"></div>
<div style="left:409.00px;top:906.70px;width:2.00px;height:21.60px;background:#fafbfd;"></div>
<div style="left:504.50px;top:906.70px;width:2.00px;height:21.60px;background:#fafbfd;"></div>
<div style="left:597.50px;top:906.70px;width:2.00px;height:21.60px;background:#fafbfd;"></div>
<div style="left:22.00px;top:928.30px;width:110.00px;height:1.00px;background:#dfe0e4;"></div>
<div style="left:226.00px;top:928.30px;width:563.00px;height:1.00px;background:#dfe0e4;"></div>
<div style="left:133.00px;top:906.70px;width:92.00px;height:21.60px;background:#779cbb;"></div>
<div class="t" style="top:914px;font-size:8.6px;color:#ffffff;letter-spacing:0.012px;left:29.01px;width:300px;text-align:center;">Sports</div>
<div style="left:790.00px;top:906.70px;width:92.00px;height:21.60px;background:#efb052;"></div>
<div class="t" style="top:914px;font-size:8.6px;color:#fff;letter-spacing:0.759px;left:686.38px;width:300px;text-align:center;">Complete</div>
<div class="t" style="top:914px;font-size:8.6px;color:#2b2b2b;letter-spacing:0.037px;left:402.02px;width:300px;text-align:center;">25</div>
<div style="left:22.00px;top:932.30px;width:109.00px;height:21.60px;background:#f5f6fa;"></div>
<div style="left:227.00px;top:932.30px;width:561.00px;height:21.60px;background:#f5f6fa;"></div>
<div style="left:409.00px;top:932.30px;width:2.00px;height:21.60px;background:#fafbfd;"></div>
<div style="left:504.50px;top:932.30px;width:2.00px;height:21.60px;background:#fafbfd;"></div>
<div style="left:597.50px;top:932.30px;width:2.00px;height:21.60px;background:#fafbfd;"></div>
<div style="left:22.00px;top:953.90px;width:110.00px;height:1.00px;background:#dfe0e4;"></div>
<div style="left:226.00px;top:953.90px;width:563.00px;height:1.00px;background:#dfe0e4;"></div>
<div style="left:133.00px;top:932.30px;width:92.00px;height:21.60px;background:#779cbb;"></div>
<div class="t" style="top:940px;font-size:8.6px;color:#ffffff;letter-spacing:0.012px;left:29.01px;width:300px;text-align:center;">Sports</div>
<div style="left:790.00px;top:932.30px;width:92.00px;height:21.60px;background:#d44f62;"></div>
<div class="t" style="top:940px;font-size:8.6px;color:#fff;letter-spacing:0.400px;left:686.20px;width:300px;text-align:center;">Not Started</div>
<div class="t" style="top:940px;font-size:8.6px;color:#2b2b2b;letter-spacing:0.037px;left:402.02px;width:300px;text-align:center;">30</div>
<div style="left:22.00px;top:957.90px;width:109.00px;height:21.60px;background:#f5f6fa;"></div>
<div style="left:227.00px;top:957.90px;width:561.00px;height:21.60px;background:#f5f6fa;"></div>
<div style="left:409.00px;top:957.90px;width:2.00px;height:21.60px;background:#fafbfd;"></div>
<div style="left:504.50px;top:957.90px;width:2.00px;height:21.60px;background:#fafbfd;"></div>
<div style="left:597.50px;top:957.90px;width:2.00px;height:21.60px;background:#fafbfd;"></div>
<div style="left:22.00px;top:979.50px;width:110.00px;height:1.00px;background:#dfe0e4;"></div>
<div style="left:226.00px;top:979.50px;width:563.00px;height:1.00px;background:#dfe0e4;"></div>
<div style="left:133.00px;top:957.90px;width:92.00px;height:21.60px;background:#f19b7c;"></div>
<div class="t" style="top:966px;font-size:8.6px;color:#3a180d;letter-spacing:0.028px;left:29.01px;width:300px;text-align:center;">Friends</div>
<div style="left:790.00px;top:957.90px;width:92.00px;height:21.60px;background:#58c47b;"></div>
<div class="t" style="top:966px;font-size:8.6px;color:#fff;left:686.00px;width:300px;text-align:center;">In Progress</div>
<div class="t" style="top:966px;font-size:8.6px;color:#2b2b2b;letter-spacing:0.037px;left:402.02px;width:300px;text-align:center;">20</div>
<div style="left:22.00px;top:983.50px;width:109.00px;height:21.60px;background:#f5f6fa;"></div>
<div style="left:227.00px;top:983.50px;width:561.00px;height:21.60px;background:#f5f6fa;"></div>
<div style="left:409.00px;top:983.50px;width:2.00px;height:21.60px;background:#fafbfd;"></div>
<div style="left:504.50px;top:983.50px;width:2.00px;height:21.60px;background:#fafbfd;"></div>
<div style="left:597.50px;top:983.50px;width:2.00px;height:21.60px;background:#fafbfd;"></div>
<div style="left:22.00px;top:1005.10px;width:110.00px;height:1.00px;background:#dfe0e4;"></div>
<div style="left:226.00px;top:1005.10px;width:563.00px;height:1.00px;background:#dfe0e4;"></div>
<div style="left:133.00px;top:983.50px;width:92.00px;height:21.60px;background:#965fd9;"></div>
<div class="t" style="top:991px;font-size:8.6px;color:#ffffff;letter-spacing:0.191px;left:29.10px;width:300px;text-align:center;">Family</div>
<div style="left:790.00px;top:983.50px;width:92.00px;height:21.60px;background:#58c47b;"></div>
<div class="t" style="top:991px;font-size:8.6px;color:#fff;left:686.00px;width:300px;text-align:center;">In Progress</div>
<div class="t" style="top:991px;font-size:8.6px;color:#2b2b2b;letter-spacing:0.037px;left:402.02px;width:300px;text-align:center;">40</div>
<div style="left:22.00px;top:1009.10px;width:109.00px;height:21.60px;background:#f5f6fa;"></div>
<div style="left:227.00px;top:1009.10px;width:561.00px;height:21.60px;background:#f5f6fa;"></div>
<div style="left:409.00px;top:1009.10px;width:2.00px;height:21.60px;background:#fafbfd;"></div>
<div style="left:504.50px;top:1009.10px;width:2.00px;height:21.60px;background:#fafbfd;"></div>
<div style="left:597.50px;top:1009.10px;width:2.00px;height:21.60px;background:#fafbfd;"></div>
<div style="left:22.00px;top:1030.70px;width:110.00px;height:1.00px;background:#dfe0e4;"></div>
<div style="left:226.00px;top:1030.70px;width:563.00px;height:1.00px;background:#dfe0e4;"></div>
<div style="left:133.00px;top:1009.10px;width:92.00px;height:21.60px;background:#eca6ec;"></div>
<div class="t" style="top:1017px;font-size:8.6px;color:#3d1145;letter-spacing:0.282px;left:29.14px;width:300px;text-align:center;">Work</div>
<div style="left:790.00px;top:1009.10px;width:92.00px;height:21.60px;background:#d44f62;"></div>
<div class="t" style="top:1017px;font-size:8.6px;color:#fff;letter-spacing:0.400px;left:686.20px;width:300px;text-align:center;">Not Started</div>
<div class="t" style="top:1017px;font-size:8.6px;color:#2b2b2b;letter-spacing:0.037px;left:402.02px;width:300px;text-align:center;">35</div>
<div style="left:22.00px;top:1034.70px;width:109.00px;height:21.60px;background:#f5f6fa;"></div>
<div style="left:227.00px;top:1034.70px;width:561.00px;height:21.60px;background:#f5f6fa;"></div>
<div style="left:409.00px;top:1034.70px;width:2.00px;height:21.60px;background:#fafbfd;"></div>
<div style="left:504.50px;top:1034.70px;width:2.00px;height:21.60px;background:#fafbfd;"></div>
<div style="left:597.50px;top:1034.70px;width:2.00px;height:21.60px;background:#fafbfd;"></div>
<div style="left:22.00px;top:1056.30px;width:110.00px;height:1.00px;background:#dfe0e4;"></div>
<div style="left:226.00px;top:1056.30px;width:563.00px;height:1.00px;background:#dfe0e4;"></div>
<div style="left:133.00px;top:1034.70px;width:92.00px;height:21.60px;background:#eca6ec;"></div>
<div class="t" style="top:1042px;font-size:8.6px;color:#3d1145;letter-spacing:0.282px;left:29.14px;width:300px;text-align:center;">Work</div>
<div style="left:790.00px;top:1034.70px;width:92.00px;height:21.60px;background:#efb052;"></div>
<div class="t" style="top:1042px;font-size:8.6px;color:#fff;letter-spacing:0.759px;left:686.38px;width:300px;text-align:center;">Complete</div>
<div class="t" style="top:1042px;font-size:8.6px;color:#2b2b2b;letter-spacing:0.037px;left:402.02px;width:300px;text-align:center;">30</div>
<div style="left:22.00px;top:1060.30px;width:109.00px;height:21.60px;background:#f5f6fa;"></div>
<div style="left:227.00px;top:1060.30px;width:561.00px;height:21.60px;background:#f5f6fa;"></div>
<div style="left:409.00px;top:1060.30px;width:2.00px;height:21.60px;background:#fafbfd;"></div>
<div style="left:504.50px;top:1060.30px;width:2.00px;height:21.60px;background:#fafbfd;"></div>
<div style="left:597.50px;top:1060.30px;width:2.00px;height:21.60px;background:#fafbfd;"></div>
<div style="left:22.00px;top:1081.90px;width:110.00px;height:1.00px;background:#dfe0e4;"></div>
<div style="left:226.00px;top:1081.90px;width:563.00px;height:1.00px;background:#dfe0e4;"></div>
<div style="left:133.00px;top:1060.30px;width:92.00px;height:21.60px;background:#ed6d40;"></div>
<div class="t" style="top:1068px;font-size:8.6px;color:#ffffff;letter-spacing:0.339px;left:29.17px;width:300px;text-align:center;">Art</div>
<div style="left:790.00px;top:1060.30px;width:92.00px;height:21.60px;background:#efb052;"></div>
<div class="t" style="top:1068px;font-size:8.6px;color:#fff;letter-spacing:0.759px;left:686.38px;width:300px;text-align:center;">Complete</div>
<div class="t" style="top:1068px;font-size:8.6px;color:#2b2b2b;letter-spacing:0.037px;left:402.02px;width:300px;text-align:center;">25</div>
<div style="left:22.00px;top:1085.90px;width:109.00px;height:21.60px;background:#f5f6fa;"></div>
<div style="left:227.00px;top:1085.90px;width:561.00px;height:21.60px;background:#f5f6fa;"></div>
<div style="left:409.00px;top:1085.90px;width:2.00px;height:21.60px;background:#fafbfd;"></div>
<div style="left:504.50px;top:1085.90px;width:2.00px;height:21.60px;background:#fafbfd;"></div>
<div style="left:597.50px;top:1085.90px;width:2.00px;height:21.60px;background:#fafbfd;"></div>
<div style="left:22.00px;top:1107.50px;width:110.00px;height:1.00px;background:#dfe0e4;"></div>
<div style="left:226.00px;top:1107.50px;width:563.00px;height:1.00px;background:#dfe0e4;"></div>
<div style="left:133.00px;top:1085.90px;width:92.00px;height:21.60px;background:#779cbb;"></div>
<div class="t" style="top:1093px;font-size:8.6px;color:#ffffff;letter-spacing:0.012px;left:29.01px;width:300px;text-align:center;">Sports</div>
<div style="left:790.00px;top:1085.90px;width:92.00px;height:21.60px;background:#58c47b;"></div>
<div class="t" style="top:1093px;font-size:8.6px;color:#fff;left:686.00px;width:300px;text-align:center;">In Progress</div>
<div class="t" style="top:1093px;font-size:8.6px;color:#2b2b2b;letter-spacing:0.037px;left:402.02px;width:300px;text-align:center;">20</div>
</body></html>
